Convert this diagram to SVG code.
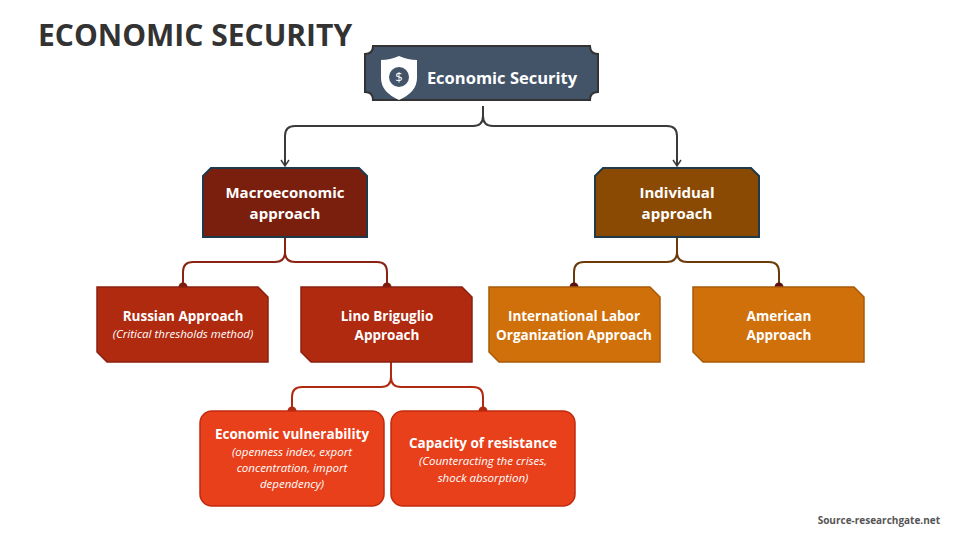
<svg xmlns="http://www.w3.org/2000/svg" width="960" height="540" viewBox="0 0 960 540">
<style>
text{font-family:"Open Sans","Noto Sans",sans-serif;fill:#fff;text-anchor:middle;font-weight:bold;font-size:13.5px}
.i{font-style:italic;font-weight:normal;font-size:11.5px}
.c{fill:none;stroke-width:2}
</style>
<defs><marker id="a" markerWidth="10" markerHeight="10" refX="8" refY="5" orient="auto" markerUnits="userSpaceOnUse"><path d="M2,1 L8,5 L2,9" fill="none" stroke="#3a3a3a" stroke-width="1.5"/></marker></defs>
<rect width="960" height="540" fill="#fff"/>
<text x="38" y="46" style="fill:#333;text-anchor:start;font-size:30px">ECONOMIC SECURITY</text>
<g id="connectors">
<path class="c" stroke="#3a3a3a" d="M483,106 V116 Q483,126 473,126 H295 Q285,126 285,136 V166 M483,116 Q483,126 493,126 H667 Q677,126 677,136 V166" marker-end="url(#a)"/>
<path class="c" stroke="#3a3a3a" d="M285,136 V166" marker-end="url(#a)"/>
<path class="c" stroke="#8a2412" d="M285,237 V252 Q285,262 275,262 H193 Q183,262 183,272 V287 M285,252 Q285,262 295,262 H377 Q387,262 387,272 V287"/>
<circle cx="183" cy="287" r="4.5" fill="#7a1f0e"/><circle cx="387" cy="287" r="4.5" fill="#7a1f0e"/>
<path class="c" stroke="#6b3a08" d="M677,237 V252 Q677,262 667,262 H584 Q574,262 574,272 V287 M677,252 Q677,262 687,262 H769 Q779,262 779,272 V287"/>
<circle cx="574" cy="287" r="4.5" fill="#5a1010"/><circle cx="779" cy="287" r="4.5" fill="#5a1010"/>
<path class="c" stroke="#b02a10" d="M391,362 V377 Q391,387 381,387 H302 Q292,387 292,397 V411 M391,377 Q391,387 401,387 H473 Q483,387 483,397 V411"/>
<circle cx="292" cy="411" r="4.5" fill="#b02a10"/><circle cx="483" cy="411" r="4.5" fill="#b02a10"/>
</g>
<g id="root">
<path d="M373,46 H590 Q590,54 598,54 V92 Q590,92 590,100 H373 Q373,92 365,92 V54 Q373,54 373,46Z" fill="#435469" stroke="#333" stroke-width="2"/>
<path d="M399,56 Q390,60 381,60 V78 Q381,92 399,100 Q417,92 417,78 V60 Q408,60 399,56Z" fill="#fff"/>
<circle cx="399" cy="77" r="10" fill="#435469"/>
<text x="399" y="82" style="font-size:13px;font-weight:normal">$</text>
<text x="502" y="84" style="font-size:16.5px">Economic Security</text>
</g>
<g id="macro"><path d="M211,168 H359 L367,176 V237 H203 V176Z" fill="#7a1f0e" stroke="#1f3a4a" stroke-width="2"/>
<text x="285" y="198" style="font-size:15px">Macroeconomic</text><text x="285" y="219" style="font-size:15px">approach</text></g>
<g id="individual"><path d="M603,168 H751 L759,176 V237 H595 V176Z" fill="#8a4a04" stroke="#1f3a4a" stroke-width="2"/>
<text x="677" y="198" style="font-size:15px">Individual</text><text x="677" y="219" style="font-size:15px">approach</text></g>
<g id="russian"><path d="M97,287 H258 L268,297 V362 H107 L97,352Z" fill="#b02a10" stroke="#8a2010" stroke-width="1.5"/>
<text x="183" y="321">Russian Approach</text><text class="i" x="183" y="338">(Critical thresholds method)</text></g>
<g id="lino"><path d="M301,287 H462 L472,297 V362 H311 L301,352Z" fill="#b02a10" stroke="#8a2010" stroke-width="1.5"/>
<text x="387" y="321">Lino Briguglio</text><text x="387" y="340">Approach</text></g>
<g id="ilo"><path d="M489,287 H650 L660,297 V362 H499 L489,352Z" fill="#d0700a" stroke="#a85a08" stroke-width="1.5"/>
<text x="574" y="321">International Labor</text><text x="574" y="340">Organization Approach</text></g>
<g id="american"><path d="M693,287 H854 L864,297 V362 H703 L693,352Z" fill="#d0700a" stroke="#a85a08" stroke-width="1.5"/>
<text x="779" y="321">American</text><text x="779" y="340">Approach</text></g>
<g id="vuln"><rect x="200" y="411" width="184" height="95" rx="12" fill="#e8401a" stroke="#c02a10" stroke-width="1.5"/>
<text x="292" y="439">Economic vulnerability</text><text class="i" x="292" y="456">(openness index, export</text><text class="i" x="292" y="472">concentration, import</text><text class="i" x="292" y="488">dependency)</text></g>
<g id="capacity"><rect x="391" y="411" width="184" height="95" rx="12" fill="#e8401a" stroke="#c02a10" stroke-width="1.5"/>
<text x="483" y="448">Capacity of resistance</text><text class="i" x="483" y="465">(Counteracting the crises,</text><text class="i" x="483" y="482">shock absorption)</text></g>
<text x="940" y="524" style="fill:#555;text-anchor:end;font-size:10px">Source-researchgate.net</text>
</svg>
